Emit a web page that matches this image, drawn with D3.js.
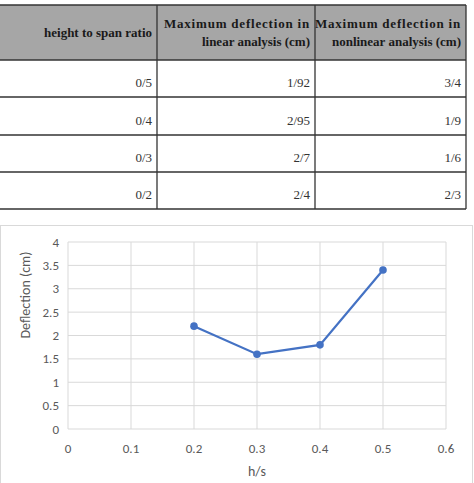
<!DOCTYPE html><html><head><meta charset="utf-8"><script src="https://cdn.jsdelivr.net/npm/d3@7"></script>
<style>body{margin:0;background:#fff}</style></head><body><svg id="c" width="474" height="483"></svg>
<script>
const headers=[["height to span ratio"],["Maximum deflection in","linear analysis (cm)"],["Maximum deflection in","nonlinear analysis (cm)"]];
const ratioLabels=["0/5","0/4","0/3","0/2"];
const linearLabels=["1/92","2/95","2/7","2/4"];
const nonlinearLabels=["3/4","1/9","1/6","2/3"];
const xs=[0.2,0.3,0.4,0.5];
const ys=[2.2,1.6,1.8,3.4];
const xTicks=[0,0.1,0.2,0.3,0.4,0.5,0.6];
const yTicks=[0,0.5,1,1.5,2,2.5,3,3.5,4];

const svg=d3.select("#c");
const colX=[0,157,315,466];
const rowY=[5,60,97,135,172,209];
svg.append("rect").attr("x",0).attr("y",5).attr("width",466).attr("height",55).attr("fill","#a6a6a6");
const tf="'Liberation Serif','DejaVu Serif',serif";
headers.forEach((h,i)=>{
  h.forEach((line,j)=>{
    const y=h.length===1?37:28+j*18;
    svg.append("text").attr("x",colX[i+1]-5).attr("y",y).attr("text-anchor","end")
      .attr("font-family",tf).attr("font-weight","bold").attr("font-size",13).attr("fill","#1a1a1a")
      .style("letter-spacing", i>0&&j===0?"0.8px":"0px").text(line);
  });
});
const cols=[ratioLabels,linearLabels,nonlinearLabels];
cols.forEach((col,i)=>col.forEach((t,r)=>{
  svg.append("text").attr("x",colX[i+1]-5).attr("y",rowY[r+2]-10).attr("text-anchor","end")
    .attr("font-family",tf).attr("font-size",13).attr("fill","#333").text(t);
}));
rowY.forEach(y=>svg.append("line").attr("x1",0).attr("x2",466).attr("y1",y).attr("y2",y).attr("stroke","#333").attr("stroke-width",1.3));
[157,315,466].forEach(x=>svg.append("line").attr("x1",x).attr("x2",x).attr("y1",5).attr("y2",209).attr("stroke","#333").attr("stroke-width",1.3));

svg.append("rect").attr("x",0.5).attr("y",225.5).attr("width",472).attr("height",262).attr("fill","none").attr("stroke","#d9d9d9");
const x=d3.scaleLinear().domain([0,0.6]).range([68,446]);
const y=d3.scaleLinear().domain([0,4]).range([429,242]);
const g=svg.append("g");
xTicks.forEach(t=>g.append("line").attr("x1",x(t)).attr("x2",x(t)).attr("y1",y(0)).attr("y2",y(4)).attr("stroke","#d9d9d9"));
yTicks.forEach(t=>g.append("line").attr("x1",x(0)).attr("x2",x(0.6)).attr("y1",y(t)).attr("y2",y(t)).attr("stroke","#d9d9d9"));
const cf="Carlito,'Open Sans',sans-serif";
xTicks.forEach(t=>g.append("text").attr("x",x(t)).attr("y",453).attr("text-anchor","middle").attr("font-family",cf).attr("font-size",13).attr("fill","#595959").text(t));
yTicks.forEach(t=>g.append("text").attr("x",x(0)-9).attr("y",y(t)+4.5).attr("text-anchor","end").attr("font-family",cf).attr("font-size",13).attr("fill","#595959").text(t));
g.append("text").attr("x",257).attr("y",476).attr("text-anchor","middle").attr("font-family",cf).attr("font-size",14).attr("fill","#595959").text("h/s");
g.append("text").attr("transform","translate(30,295) rotate(-90)").attr("text-anchor","middle").attr("font-family",cf).attr("font-size",14).attr("fill","#595959").text("Deflection (cm)");
const pts=xs.map((v,i)=>[v,ys[i]]);
g.append("path").attr("d",d3.line().x(d=>x(d[0])).y(d=>y(d[1]))(pts)).attr("fill","none").attr("stroke","#4472c4").attr("stroke-width",2.2);
g.selectAll("circle.p").data(pts).enter().append("circle").attr("cx",d=>x(d[0])).attr("cy",d=>y(d[1])).attr("r",3.8).attr("fill","#4472c4");
</script></body></html>
